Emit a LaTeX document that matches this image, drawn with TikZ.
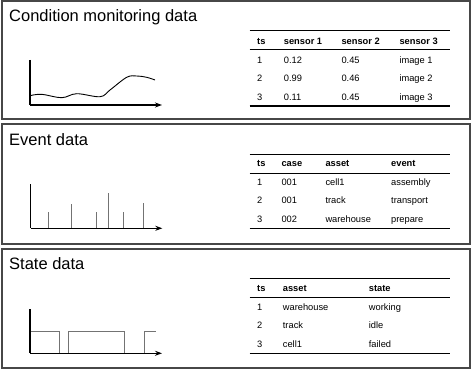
\documentclass[tikz,border=0pt]{standalone}
\usepackage{fontspec}
\setmainfont{Liberation Sans}
\usetikzlibrary{arrows.meta}
\begin{document}
\begin{tikzpicture}[x=1pt,y=-1pt,
  panel/.style={draw=black!72, line width=2pt},
  title/.style={anchor=base west, inner sep=0pt, font=\fontsize{16.5}{18}\selectfont},
  cell/.style={anchor=west, inner sep=0pt, text height=6.7pt, text depth=0pt, font=\fontsize{9.3}{10}\selectfont},
  head/.style={cell, font=\fontsize{9.3}{10}\selectfont\bfseries},
  rule/.style={line width=1.1pt},
  axis/.style={line width=1.2pt},
  axisarrow/.style={axis, -{Stealth[length=7pt,width=5pt]}},
  signal/.style={draw=black!55, line width=0.9pt}]
\useasboundingbox (0,0) rectangle (474,369);
\fill[white] (0,0) rectangle (474,369);

% ---------- panels ----------
\draw[panel] (1.5,1) rectangle (470,119);
\draw[panel] (1.5,123.5) rectangle (470,243.5);
\draw[panel] (1.5,248.5) rectangle (470,367.5);

\node[title] (title1) at (9,21.7) {Condition monitoring data};
\node[title] (title2) at (9,145) {Event data};
\node[title] (title3) at (9,269) {State data};

% ---------- chart 1 ----------
\coordinate (o1) at (30,105);
\coordinate (y1) at (30,60);
\coordinate (x1) at (162,105);
\draw[axis] (y1) -- (o1);
\draw[axisarrow] (o1) -- (x1);
\draw[line width=0.9pt] plot[smooth, tension=0.6] coordinates {(30,95.7) (41.7,94.3) (61.7,97.7) (76.7,93.7) (100,96.7) (110,90) (126.7,77.3) (136.7,76) (146.7,77.3) (155,80)};

% ---------- table 1 ----------
\draw[rule] (249.7,30.7) -- (449.7,30.7);
\draw[rule] (249.7,49.3) -- (449.7,49.3);
\draw[rule] (249.7,106) -- (449.7,106);
\node[head] (a00) at (257,40.7) {ts};
\node[head] (a01) at (283.7,40.7) {sensor 1};
\node[head] (a02) at (341.3,40.7) {sensor 2};
\node[head] (a03) at (399.3,40.7) {sensor 3};
\node[cell] (a10) at (257,60) {1};
\node[cell] (a11) at (283.7,60) {0.12};
\node[cell] (a12) at (341.3,60) {0.45};
\node[cell] (a13) at (399.3,60) {image 1};
\node[cell] (a20) at (257,78.3) {2};
\node[cell] (a21) at (283.7,78.3) {0.99};
\node[cell] (a22) at (341.3,78.3) {0.46};
\node[cell] (a23) at (399.3,78.3) {image 2};
\node[cell] (a30) at (257,96.7) {3};
\node[cell] (a31) at (283.7,96.7) {0.11};
\node[cell] (a32) at (341.3,96.7) {0.45};
\node[cell] (a33) at (399.3,96.7) {image 3};

% ---------- chart 2 ----------
\coordinate (o2) at (30.7,228.3);
\coordinate (y2) at (30.7,184);
\coordinate (x2) at (162.3,228.3);
\draw[signal] (48.3,228.3) -- (48.3,211.7);
\draw[signal] (71,228.3) -- (71,204.3);
\draw[signal] (96.7,228.3) -- (96.7,212);
\draw[signal] (108.7,228.3) -- (108.7,193.3);
\draw[signal] (123.3,228.3) -- (123.3,212);
\draw[signal] (143.3,228.3) -- (143.3,203.3);
\draw[axis] (y2) -- (o2);
\draw[axisarrow] (o2) -- (x2);

% ---------- table 2 ----------
\draw[rule] (249.7,154.3) -- (449.7,154.3);
\draw[rule] (249.7,173.3) -- (449.7,173.3);
\draw[rule] (249.7,228.7) -- (449.7,228.7);
\node[head] (b00) at (257,163.3) {ts};
\node[head] (b01) at (281.3,163.3) {case};
\node[head] (b02) at (325.3,163.3) {asset};
\node[head] (b03) at (391,163.3) {event};
\node[cell] (b10) at (257,181.7) {1};
\node[cell] (b11) at (281.3,181.7) {001};
\node[cell] (b12) at (325.3,181.7) {cell1};
\node[cell] (b13) at (391,181.7) {assembly};
\node[cell] (b20) at (257,200.3) {2};
\node[cell] (b21) at (281.3,200.3) {001};
\node[cell] (b22) at (325.3,200.3) {track};
\node[cell] (b23) at (391,200.3) {transport};
\node[cell] (b30) at (257,219) {3};
\node[cell] (b31) at (281.3,219) {002};
\node[cell] (b32) at (325.3,219) {warehouse};
\node[cell] (b33) at (391,219) {prepare};

% ---------- chart 3 ----------
\coordinate (o3) at (30,353.3);
\coordinate (y3) at (30,309);
\coordinate (x3) at (162,353.3);
\draw[signal] (30,331) -- (59.3,331) -- (59.3,353.3);
\draw[signal] (68,353.3) -- (68,331) -- (124,331) -- (124,353.3);
\draw[signal] (144.3,353.3) -- (144.3,331) -- (155.7,331);
\draw[axis] (y3) -- (o3);
\draw[axisarrow] (o3) -- (x3);

% ---------- table 3 ----------
\draw[rule] (249.7,278.3) -- (449.7,278.3);
\draw[rule] (249.7,297.3) -- (449.7,297.3);
\draw[rule] (249.7,353.3) -- (449.7,353.3);
\node[head] (c00) at (257,287.7) {ts};
\node[head] (c01) at (282.7,287.7) {asset};
\node[head] (c02) at (368.7,287.7) {state};
\node[cell] (c10) at (257,306.7) {1};
\node[cell] (c11) at (282.7,306.7) {warehouse};
\node[cell] (c12) at (368.7,306.7) {working};
\node[cell] (c20) at (257,325.3) {2};
\node[cell] (c21) at (282.7,325.3) {track};
\node[cell] (c22) at (368.7,325.3) {idle};
\node[cell] (c30) at (257,344) {3};
\node[cell] (c31) at (282.7,344) {cell1};
\node[cell] (c32) at (368.7,344) {failed};
\end{tikzpicture}
\end{document}
